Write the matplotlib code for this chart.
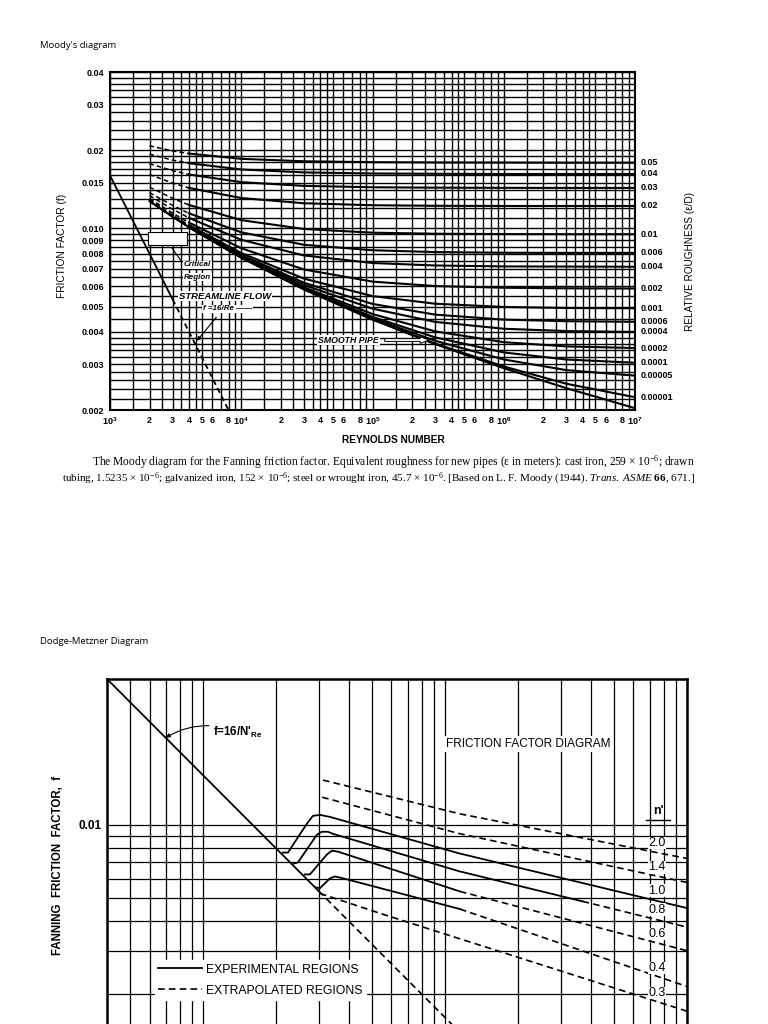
import numpy as np
import matplotlib
matplotlib.use('Agg')
import matplotlib.pyplot as plt
from matplotlib.patches import Rectangle

plt.rcParams['font.family'] = ['Liberation Sans', 'DejaVu Sans']
plt.rcParams['mathtext.default'] = 'regular'
plt.rcParams['mathtext.fontset'] = 'custom'
plt.rcParams['mathtext.it'] = 'Liberation Serif:italic'
plt.rcParams['mathtext.bf'] = 'Liberation Serif:bold'
plt.rcParams['mathtext.rm'] = 'Liberation Serif'

# --- Moody diagram: Fanning friction factor ---
moody_re = [2e3, 3e3, 4e3, 1e4, 3e4, 1e5, 3e5, 1e6, 3e6, 1e7]
f_smooth = [0.01273, 0.01109, 0.01011, 0.00772, 0.00583, 0.004456, 0.003587, 0.002897, 0.002427, 0.002033]
f_00001 = [0.01273, 0.01109, 0.01011, 0.00772, 0.00583, 0.004465, 0.003606, 0.002942, 0.002524, 0.00224]
f_00005 = [0.01272, 0.01108, 0.0101, 0.00773, 0.00585, 0.004508, 0.003694, 0.00313, 0.002848, 0.002712]
f_0001 = [0.01274, 0.0111, 0.01012, 0.00775, 0.00588, 0.004566, 0.003808, 0.003331, 0.003128, 0.003041]
f_0002 = [0.01275, 0.01111, 0.01014, 0.00778, 0.00594, 0.004683, 0.004015, 0.003649, 0.003514, 0.003463]
f_0004 = [0.01278, 0.01115, 0.01018, 0.00784, 0.00606, 0.00491, 0.004367, 0.00411, 0.004026, 0.003995]
f_0006 = [0.01281, 0.01118, 0.01022, 0.00791, 0.00618, 0.00512, 0.004658, 0.004456, 0.004393, 0.00437]
f_001 = [0.01287, 0.01126, 0.0103, 0.00804, 0.00641, 0.00549, 0.00513, 0.004985, 0.00494, 0.004926]
f_002 = [0.01303, 0.01145, 0.01053, 0.00839, 0.00695, 0.00624, 0.0060, 0.00591, 0.00588, 0.00587]
f_004 = [0.01337, 0.01185, 0.01098, 0.00904, 0.00787, 0.00736, 0.0072, 0.00714, 0.00713, 0.00712]
f_006 = [0.01372, 0.01226, 0.01143, 0.00966, 0.00865, 0.00824, 0.00811, 0.00806, 0.00805, 0.00805]
f_01 = [0.01442, 0.01306, 0.01231, 0.01076, 0.00995, 0.00963, 0.00954, 0.00951, 0.0095, 0.0095]
f_02 = [0.01613, 0.01495, 0.01432, 0.01309, 0.0125, 0.01228, 0.01222, 0.0122, 0.0122, 0.0122]
f_03 = [0.01775, 0.01669, 0.01613, 0.01507, 0.01458, 0.0144, 0.01435, 0.01433, 0.01432, 0.01432]
f_04 = [0.01931, 0.01832, 0.01782, 0.01686, 0.01643, 0.01627, 0.01623, 0.0162, 0.0162, 0.0162]
f_05 = [0.0208, 0.01988, 0.01941, 0.01853, 0.01813, 0.01799, 0.01794, 0.01792, 0.0179, 0.0179]
rough_labels = ['0.05', '0.04', '0.03', '0.02', '0.01', '0.006', '0.004', '0.002', '0.001',
                '0.0006', '0.0004', '0.0002', '0.0001', '0.00005', '0.00001']
rough_curves = [f_05, f_04, f_03, f_02, f_01, f_006, f_004, f_002, f_001,
                f_0006, f_0004, f_0002, f_0001, f_00005, f_00001]

# laminar line f = 16/Re (end points)
moody_lam_re = [1e3, 3e3]
moody_lam_f = [0.016, 0.00533]
moody_lam_dash_re = [3e3, 8e3]
moody_lam_dash_f = [0.00533, 0.002]

moody_xtick_vals = [1e3, 2e3, 3e3, 4e3, 5e3, 6e3, 8e3, 1e4, 2e4, 3e4, 4e4, 5e4, 6e4, 8e4, 1e5,
                    2e5, 3e5, 4e5, 5e5, 6e5, 8e5, 1e6, 2e6, 3e6, 4e6, 5e6, 6e6, 8e6, 1e7]
moody_xtick_labels = [r'$10^3$', '2', '3', '4', '5', '6', '8', r'$10^4$', '2', '3', '4', '5', '6', '8', r'$10^5$',
                      '2', '3', '4', '5', '6', '8', r'$10^6$', '2', '3', '4', '5', '6', '8', r'$10^7$']
moody_ytick_vals = [0.04, 0.03, 0.02, 0.015, 0.010, 0.009, 0.008, 0.007, 0.006, 0.005, 0.004, 0.003, 0.002]
moody_ytick_labels = ['0.04', '0.03', '0.02', '0.015', '0.010', '0.009', '0.008', '0.007', '0.006',
                      '0.005', '0.004', '0.003', '0.002']

# --- Dodge-Metzner diagram ---
dm_lam_re = [400, 3000]
dm_lam_f = [0.04, 0.00533]
dm_lam_dash_re = [3000, 16000]
dm_lam_dash_f = [0.00533, 0.001]

dm_n10_re = [2135, 2239, 2681, 2841, 3036, 3340, 11500, 1e5]
dm_n10_f = [0.00768, 0.00768, 0.0101, 0.01089, 0.01099, 0.01078, 0.00761, 0.00453]
dm_n08_re = [2371, 2461, 2951, 3093, 3277, 3436, 11500, 37000]
dm_n08_f = [0.00692, 0.00699, 0.0091, 0.00936, 0.00936, 0.00918, 0.00642, 0.00483]
dm_n08_dash_re = [37000, 1e5]
dm_n08_dash_f = [0.00483, 0.00378]
dm_n06_re = [2631, 2760, 3245, 3404, 3603, 11500]
dm_n06_f = [0.00624, 0.00624, 0.00754, 0.00782, 0.00775, 0.00531]
dm_n06_dash_re = [11500, 1e5]
dm_n06_dash_f = [0.00531, 0.00302]
dm_n04_re = [2924, 3036, 3340, 3500, 3672, 11500]
dm_n04_f = [0.00552, 0.00547, 0.00601, 0.00612, 0.00606, 0.00449]
dm_n04_dash_re = [11500, 1e5]
dm_n04_dash_f = [0.00449, 0.00215]
dm_n20_re = [3125, 11500, 1e5]
dm_n20_f = [0.0153, 0.0111, 0.00726]
dm_n14_re = [3100, 11500, 1e5]
dm_n14_f = [0.0130, 0.00919, 0.00578]
dm_n03_re = [3036, 5500, 1e5]
dm_n03_f = [0.00521, 0.00428, 0.0017]

n_labels = ['2.0', '1.4', '1.0', '0.8', '0.6', '0.4', '0.3']
n_label_y = [0.577, 0.515, 0.454, 0.405, 0.343, 0.255, 0.191]

W, H = 768, 1024
fig = plt.figure(figsize=(W / 100, H / 100), dpi=100)
fig.patch.set_facecolor('white')


def ax_rect(l, t, r, b):
    return [l / W, 1 - b / H, (r - l) / W, (b - t) / H]


fig.text(40 / W, 1 - 45 / H, "Moody's diagram", fontsize=6.8, family='Open Sans', va='center')
fig.text(40 / W, 1 - 641 / H, "Dodge-Metzner Diagram", fontsize=6.8, family='Open Sans', va='center')

# ================= Moody =================
ax = fig.add_axes(ax_rect(110, 72, 635, 410))
ax.set_xscale('log')
ax.set_yscale('log')
ax.set_xlim(1e3, 1e7)
ax.set_ylim(0.002, 0.04)

x_grid = [m * 10 ** e for e in range(3, 7) for m in (1, 1.5, 2, 2.5, 3, 3.5, 4, 4.5, 5, 6, 7, 8, 9)]
y_grid = list(np.arange(0.002, 0.004, 0.0002)) + list(np.arange(0.004, 0.01, 0.0005)) + \
    list(np.arange(0.01, 0.02, 0.001)) + list(np.arange(0.02, 0.0401, 0.002))
for xv in x_grid:
    ax.axvline(xv, color='black', lw=1.0, zorder=1)
for yv in y_grid:
    ax.axhline(yv, color='black', lw=1.0, zorder=1)

ax.set_xticks(moody_xtick_vals, moody_xtick_labels)
ax.set_yticks(moody_ytick_vals, moody_ytick_labels)
ax.xaxis.set_minor_locator(matplotlib.ticker.NullLocator())
ax.yaxis.set_minor_locator(matplotlib.ticker.NullLocator())
ax.tick_params(length=0, labelsize=6.5, pad=4)
for t in ax.get_xticklabels() + ax.get_yticklabels():
    t.set_fontweight('bold')
for s in ax.spines.values():
    s.set_linewidth(1.5)

ax.plot(moody_re, f_smooth, 'k-', lw=1.5, zorder=3)
for lab, fv in zip(rough_labels, rough_curves):
    ax.plot(moody_re[:3], fv[:3], 'k--', lw=1.1, dashes=(3, 2), zorder=3)
    ax.plot(moody_re[2:], fv[2:], 'k-', lw=1.5, zorder=3)
    ax.text(1.01, fv[-1], lab, transform=ax.get_yaxis_transform(), fontsize=6.5,
            fontweight='bold', va='center', ha='left')

ax.plot(moody_lam_re, moody_lam_f, 'k-', lw=1.3, zorder=3)
ax.plot(moody_lam_dash_re, moody_lam_dash_f, 'k--', lw=1.3, dashes=(3, 2), zorder=3)

# critical region box
ax.add_patch(Rectangle((1950, 0.0086), 1900, 0.0011, fc='white', ec='black', lw=0.8, zorder=4))
ax.plot([0.118, 0.137], [0.479, 0.438], transform=ax.transAxes, color='black', lw=0.8, zorder=5)
box = dict(fc='white', ec='none', pad=0.6)
ax.text(0.141, 0.429, 'Critical', transform=ax.transAxes, fontsize=5.8, style='italic',
        fontweight='bold', va='center', bbox=box, zorder=5)
ax.text(0.141, 0.393, 'Region', transform=ax.transAxes, fontsize=5.8, style='italic',
        fontweight='bold', va='center', bbox=box, zorder=5)
ax.text(0.131, 0.337, 'STREAMLINE FLOW', transform=ax.transAxes, fontsize=6.8, style='italic',
        fontweight='bold', va='center', bbox=box, zorder=5)
ax.text(0.177, 0.299, 'f =16/Re ——', transform=ax.transAxes, fontsize=5.8, style='italic',
        fontweight='bold', va='center', bbox=box, zorder=5)
ax.annotate('', xy=(0.162, 0.198), xytext=(0.206, 0.281), xycoords='axes fraction',
            arrowprops=dict(arrowstyle='-|>', color='black', lw=0.8, mutation_scale=6), zorder=5)
ax.text(0.396, 0.207, 'SMOOTH PIPE', transform=ax.transAxes, fontsize=6.3, style='italic',
        fontweight='bold', va='center', bbox=box, zorder=5)
ax.annotate('', xy=(0.613, 0.207), xytext=(0.518, 0.207), xycoords='axes fraction',
            arrowprops=dict(arrowstyle='simple,head_width=0.6,head_length=0.8,tail_width=0.25',
                            fc='white', ec='black', lw=0.7, mutation_scale=8), zorder=5)

ax.text(-0.092, 0.485, 'FRICTION FACTOR (f)', transform=ax.transAxes, rotation=90,
        fontsize=7.3, va='center', ha='center')
ax.text(1.105, 0.438, 'RELATIVE ROUGHNESS (\u03b5/D)', transform=ax.transAxes, rotation=90,
        fontsize=7.2, va='center', ha='center')
fig.text(393 / W, 1 - 440 / H, 'REYNOLDS NUMBER', fontsize=7.3, fontweight='bold', ha='center', va='center')

cap1 = ('The Moody diagram for the Fanning friction factor. Equivalent roughness for new pipes '
        '(\u03b5 in meters): cast iron, 259 \u00d7 10$^{-6}$; drawn')
cap2 = ('tubing, 1.5235 \u00d7 10$^{-6}$; galvanized iron, 152 \u00d7 10$^{-6}$; steel or wrought iron, '
        '45.7 \u00d7 10$^{-6}$. [Based on L. F. Moody (1944). $\\it{Trans.\\ ASME}$ $\\bf{66}$, 671.]')
fig.text(92 / W, 1 - 462 / H, cap1, fontsize=8.3, family='Liberation Serif', va='center')
fig.text(62 / W, 1 - 479 / H, cap2, fontsize=8.0, family='Liberation Serif', va='center')

# ================= Dodge-Metzner =================
ax2 = fig.add_axes(ax_rect(107, 679, 687, 1067))
ax2.set_xscale('log')
ax2.set_yscale('log')
ax2.set_xlim(400, 1e5)
ax2.set_ylim(0.001, 0.04)
dm_xgrid = list(range(500, 1001, 100)) + list(range(2000, 10001, 1000)) + list(range(20000, 100001, 10000))
dm_ygrid = [0.002, 0.003, 0.004, 0.005, 0.006, 0.007, 0.008, 0.009, 0.01]
for xv in dm_xgrid:
    ax2.axvline(xv, color='black', lw=0.9, zorder=1)
for yv in dm_ygrid:
    ax2.axhline(yv, color='black', lw=0.9, zorder=1)
ax2.set_xticks([])
ax2.set_yticks([0.01], ['0.01'])
ax2.yaxis.set_minor_locator(matplotlib.ticker.NullLocator())
ax2.xaxis.set_minor_locator(matplotlib.ticker.NullLocator())
ax2.tick_params(length=0, labelsize=8.5, pad=4)
for t in ax2.get_yticklabels():
    t.set_fontweight('bold')
for s in ax2.spines.values():
    s.set_linewidth(1.8)

dash = (4, 2.5)
ax2.plot(dm_lam_re, dm_lam_f, 'k-', lw=1.3, zorder=3)
ax2.plot(dm_lam_dash_re, dm_lam_dash_f, 'k--', lw=1.2, dashes=dash, zorder=3)
ax2.plot(dm_n10_re, dm_n10_f, 'k-', lw=1.3, zorder=3, label='EXPERIMENTAL REGIONS')
ax2.plot(dm_n08_re, dm_n08_f, 'k-', lw=1.3, zorder=3)
ax2.plot(dm_n06_re, dm_n06_f, 'k-', lw=1.3, zorder=3)
ax2.plot(dm_n04_re, dm_n04_f, 'k-', lw=1.3, zorder=3)
ax2.plot(dm_n08_dash_re, dm_n08_dash_f, 'k--', lw=1.2, dashes=dash, zorder=3)
ax2.plot(dm_n06_dash_re, dm_n06_dash_f, 'k--', lw=1.2, dashes=dash, zorder=3)
ax2.plot(dm_n04_dash_re, dm_n04_dash_f, 'k--', lw=1.2, dashes=dash, zorder=3)
ax2.plot(dm_n20_re, dm_n20_f, 'k--', lw=1.2, dashes=dash, zorder=3, label='EXTRAPOLATED REGIONS')
ax2.plot(dm_n14_re, dm_n14_f, 'k--', lw=1.2, dashes=dash, zorder=3)
ax2.plot(dm_n03_re, dm_n03_f, 'k--', lw=1.2, dashes=dash, zorder=3)

leg = ax2.legend(loc='upper left', bbox_to_anchor=(0.082, 0.276), frameon=True, fancybox=False,
                 framealpha=1, edgecolor='white', fontsize=8.8, handlelength=3.6, handletextpad=0.3,
                 borderpad=0.3, labelspacing=0.75, borderaxespad=0)
leg.set_zorder(6)

ax2.text(0.726, 0.832, 'FRICTION FACTOR DIAGRAM', transform=ax2.transAxes, fontsize=8.5,
         ha='center', va='center', bbox=dict(fc='white', ec='none', pad=1.5), zorder=5)
for lab, yy in zip(n_labels, n_label_y):
    ax2.text(0.948, yy, lab, transform=ax2.transAxes, fontsize=9, ha='center', va='center',
             bbox=dict(fc='white', ec='none', pad=0.3), zorder=5)
ax2.text(0.95, 0.66, "n'", transform=ax2.transAxes, fontsize=9, ha='center', va='center',
         fontweight='bold', bbox=dict(fc='white', ec='none', pad=0.4), zorder=5)
ax2.plot([0.929, 0.97], [0.637, 0.637], transform=ax2.transAxes, color='black', lw=1.0, zorder=6)

ax2.annotate(r"f=16/N$'_{Re}$", xy=(700, 0.0229), xytext=(0.183, 0.863),
             textcoords='axes fraction', fontsize=8.3, fontweight='bold', va='center', ha='left',
             arrowprops=dict(arrowstyle='-|>', color='black', lw=0.8, mutation_scale=6,
                             connectionstyle='arc3,rad=0.25', shrinkA=1, shrinkB=0), zorder=5)

ax2.text(-0.085, 0.52, 'FANNING  FRICTION  FACTOR,  f', transform=ax2.transAxes, rotation=90,
         fontsize=8.3, fontweight='bold', ha='center', va='center')

fig.savefig('out.png', dpi=100, facecolor='white')
